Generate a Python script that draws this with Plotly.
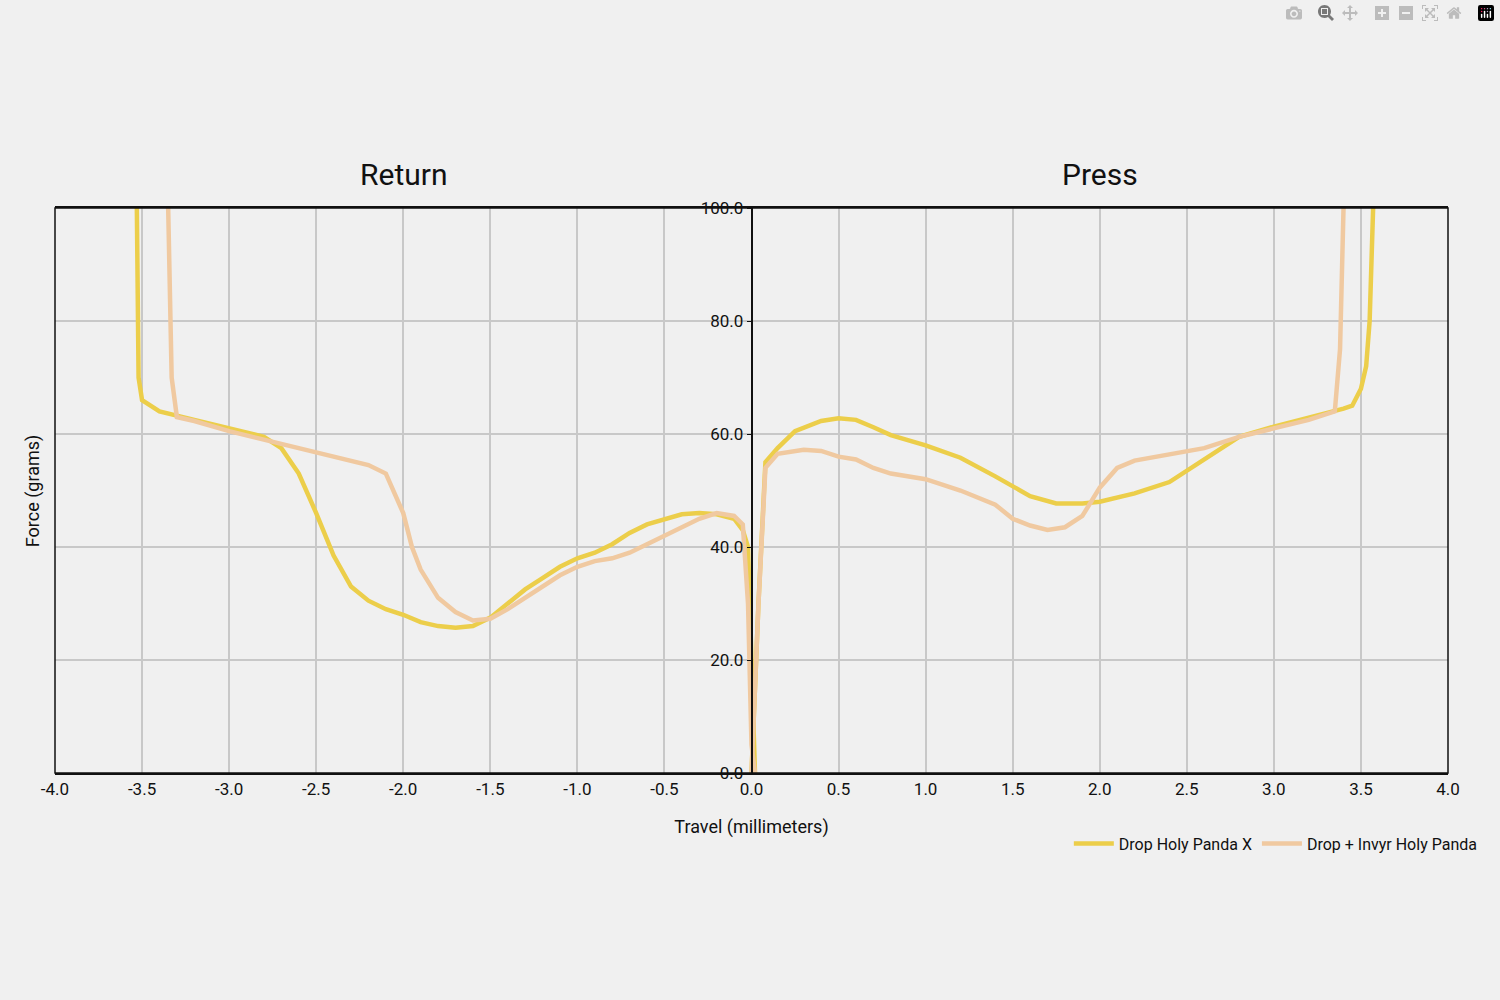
import plotly.graph_objects as go

ret_x_a = [-3.53,-3.52,-3.5,-3.4,-3.2,-3.0,-2.8,-2.7,-2.6,-2.5,-2.4,-2.3,-2.2,-2.1,-2.0,-1.9,-1.8,-1.7,-1.6,-1.5,-1.4,-1.3,-1.2,-1.1,-1.0,-0.9,-0.8,-0.7,-0.6,-0.5,-0.4,-0.3,-0.2,-0.1,-0.05,-0.02,0.0,0.02]
ret_y_a = [100,70,66,64,62.5,61,59.5,57.5,53,46,38.5,33,30.5,29,28,26.7,26,25.7,26,27.5,30,32.5,34.5,36.5,38,39,40.5,42.5,44,45,45.8,46,45.8,45,43,40,20,0]
ret_x_b = [-3.35,-3.33,-3.3,-3.2,-3.0,-2.8,-2.6,-2.4,-2.2,-2.1,-2.0,-1.95,-1.9,-1.8,-1.7,-1.6,-1.5,-1.4,-1.3,-1.2,-1.1,-1.0,-0.9,-0.8,-0.7,-0.6,-0.5,-0.4,-0.3,-0.2,-0.1,-0.05,-0.02,0.0,0.02]
ret_y_b = [100,70,63,62.3,60.5,59,57.5,56,54.5,53,46,40,36,31,28.5,27,27.3,29,31,33,35,36.5,37.5,38,39,40.5,42,43.5,45,46,45.5,44,30,5,0]
prs_x_a = [0.0,0.04,0.08,0.15,0.25,0.4,0.5,0.6,0.7,0.8,1.0,1.2,1.4,1.6,1.75,1.9,2.0,2.2,2.4,2.6,2.8,3.0,3.2,3.4,3.45,3.5,3.53,3.55,3.57]
prs_y_a = [0,30,55,57.5,60.5,62.3,62.8,62.5,61.2,59.8,58,55.8,52.5,49,47.7,47.7,48,49.5,51.5,55.5,59.5,61.3,62.8,64.5,65,68,72,80,100]
prs_x_b = [0.0,0.04,0.08,0.15,0.3,0.4,0.5,0.6,0.7,0.8,1.0,1.2,1.4,1.5,1.6,1.7,1.8,1.9,2.0,2.1,2.2,2.4,2.6,2.8,3.0,3.2,3.35,3.38,3.4]
prs_y_b = [0,30,54,56.5,57.2,57,56,55.5,54,53,52,50,47.5,45,43.8,43,43.5,45.5,50.5,54,55.3,56.3,57.5,59.5,61,62.5,64,75,100]

names = ["Drop Holy Panda X", "Drop + Invyr Holy Panda"]
colors = ["#ecce4a", "#f0c9a0"]
x_ticks = [-4.0,-3.5,-3.0,-2.5,-2.0,-1.5,-1.0,-0.5,0.0,0.5,1.0,1.5,2.0,2.5,3.0,3.5,4.0]
y_ticks = [0,20,40,60,80,100]

fig = go.Figure()
series = [(ret_x_a, ret_y_a, prs_x_a, prs_y_a), (ret_x_b, ret_y_b, prs_x_b, prs_y_b)]
for i, (rx, ry, px, py) in enumerate(series):
    fig.add_trace(go.Scatter(x=rx, y=ry, mode="lines", name=names[i], legendgroup=names[i],
                             line=dict(color=colors[i], width=4.5), showlegend=True))
    fig.add_trace(go.Scatter(x=px, y=py, mode="lines", name=names[i], legendgroup=names[i],
                             line=dict(color=colors[i], width=4.5), showlegend=False))

tickfont = dict(family="Roboto", size=17, color="#111")
fig.update_layout(
    width=1500, height=1000, paper_bgcolor="#f0f0f0", plot_bgcolor="#f0f0f0",
    margin=dict(l=55, r=52, t=208, b=227),
    xaxis=dict(range=[-4, 4], tickvals=x_ticks, ticktext=[f"{v:.1f}" for v in x_ticks],
               showgrid=True, gridcolor="#c8c8c8", gridwidth=1.5, zeroline=False,
               showline=True, linecolor="#111", linewidth=1.5, mirror=True,
               ticks="", tickfont=tickfont,
               title=dict(text="Travel (millimeters)", font=dict(family="Roboto", size=18, color="#111"), standoff=22)),
    yaxis=dict(range=[0, 100], tickvals=y_ticks, ticktext=[f"{v:.1f}" for v in y_ticks],
               anchor="free", position=0.5, showgrid=True, gridcolor="#c8c8c8", gridwidth=1.5,
               zeroline=False, showline=True, linecolor="#111", linewidth=1.5,
               ticks="outside", ticklen=4, tickcolor="#111", tickfont=tickfont),
    legend=dict(orientation="h", x=1.025, xanchor="right", y=-0.095, yanchor="top",
                font=dict(family="Roboto", size=16, color="#111"),
                bgcolor="rgba(0,0,0,0)", itemwidth=40, tracegroupgap=0),
    showlegend=True,
)
fig.add_shape(type="rect", xref="paper", yref="paper", x0=0, x1=1, y0=0, y1=1,
              line=dict(color="#111", width=1.5))
fig.add_annotation(x=-2, y=1.0, xref="x", yref="paper", yanchor="bottom", yshift=14,
                   text="Return", showarrow=False, font=dict(family="Roboto", size=30, color="#111"))
fig.add_annotation(x=2, y=1.0, xref="x", yref="paper", yanchor="bottom", yshift=14,
                   text="Press", showarrow=False, font=dict(family="Roboto", size=30, color="#111"))
fig.add_annotation(x=-0.016, y=0.5, xref="paper", yref="paper", xanchor="center", textangle=-90,
                   text="Force (grams)", showarrow=False, font=dict(family="Roboto", size=18, color="#111"))
fig.write_html("out.html", post_script="document.body.style.margin='0';")
